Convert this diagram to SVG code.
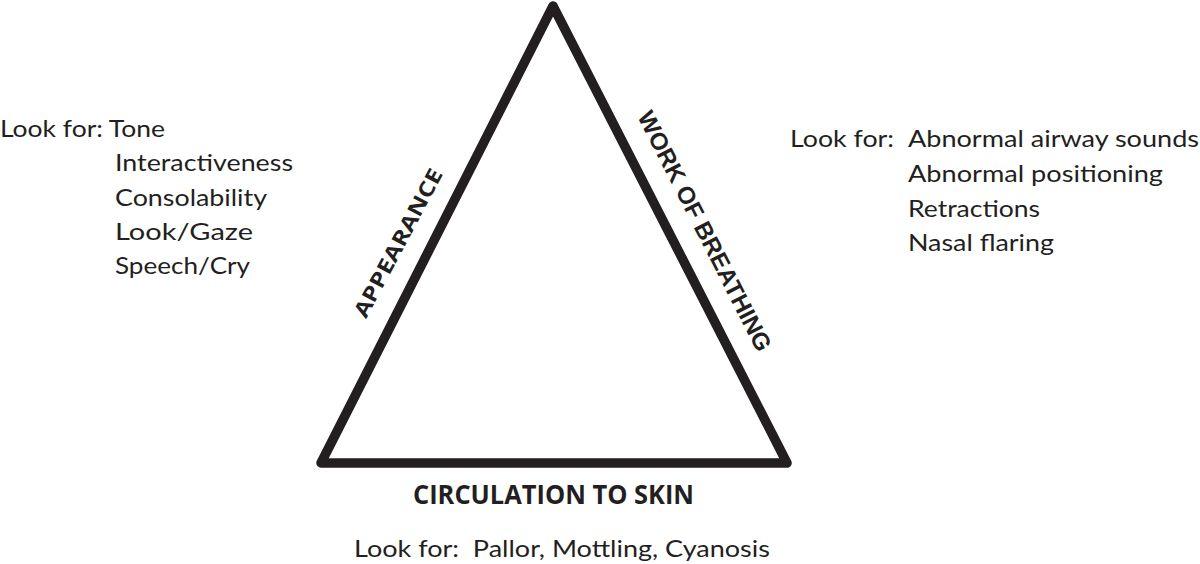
<svg xmlns="http://www.w3.org/2000/svg" width="1200" height="564" viewBox="0 0 1200 564">
<style>
.t{font-family:Lato,"Open Sans","Liberation Sans",sans-serif;font-size:23.5px;fill:#231f20;white-space:pre}
.b{font-family:"Open Sans","Liberation Sans",sans-serif;font-weight:bold;fill:#231f20}
.a{font-family:"Liberation Sans",Arial,sans-serif;font-weight:bold;fill:#231f20}
</style>
<rect width="1200" height="564" fill="#fff"/>
<g id="triangle">
<polygon points="553,6 787,463 321,463" fill="none" stroke="#231f20" stroke-width="9.5" stroke-linejoin="round"/>
</g>
<g id="appearance">
<text class="b" font-size="21" text-anchor="middle" transform="translate(398,243) rotate(-62)" y="7.5" textLength="165" lengthAdjust="spacingAndGlyphs">APPEARANCE</text>
<text class="t" x="0" y="137" textLength="165" lengthAdjust="spacingAndGlyphs">Look for: Tone</text>
<text class="t" x="115" y="171" textLength="178" lengthAdjust="spacingAndGlyphs">Interactiveness</text>
<text class="t" x="115" y="206" textLength="152" lengthAdjust="spacingAndGlyphs">Consolability</text>
<text class="t" x="115" y="240" textLength="138" lengthAdjust="spacingAndGlyphs">Look/Gaze</text>
<text class="t" x="115" y="274" textLength="135" lengthAdjust="spacingAndGlyphs">Speech/Cry</text>
</g>
<g id="work-of-breathing">
<text class="a" font-size="24" text-anchor="middle" transform="translate(705,231) rotate(63)" y="8.5" textLength="266" lengthAdjust="spacingAndGlyphs">WORK OF BREATHING</text>
<text class="t" x="790" y="147" textLength="104" lengthAdjust="spacingAndGlyphs">Look for:</text>
<text class="t" x="908" y="147" textLength="291" lengthAdjust="spacingAndGlyphs">Abnormal airway sounds</text>
<text class="t" x="908" y="182" textLength="255" lengthAdjust="spacingAndGlyphs">Abnormal positioning</text>
<text class="t" x="908" y="217" textLength="132" lengthAdjust="spacingAndGlyphs">Retractions</text>
<text class="t" x="908" y="251" textLength="146" lengthAdjust="spacingAndGlyphs">Nasal flaring</text>
</g>
<g id="circulation">
<text class="b" font-size="26" x="413" y="504" textLength="281" lengthAdjust="spacingAndGlyphs">CIRCULATION TO SKIN</text>
<text class="t" x="354" y="557" textLength="416" lengthAdjust="spacingAndGlyphs">Look for:  Pallor, Mottling, Cyanosis</text>
</g>
<g id="connectors"/>
</svg>
